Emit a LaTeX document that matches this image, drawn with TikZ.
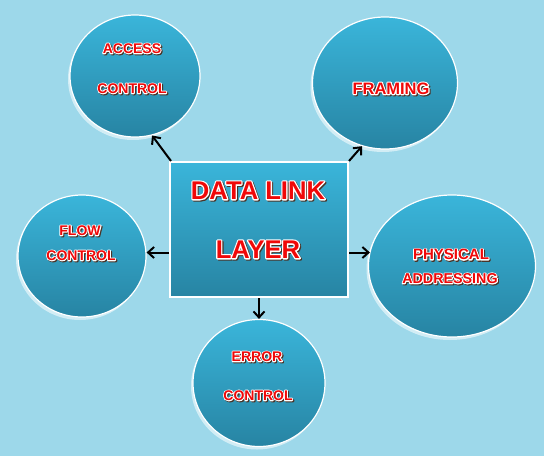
\documentclass[tikz,border=0pt]{standalone}
\usepackage{fontspec}
\setmainfont{Liberation Sans}
\newfontface\olfont[FakeBold=14]{Liberation Sans Bold}
\newfontface\olbigfont[FakeBold=10]{Liberation Sans Bold}
\usetikzlibrary{shadows,arrows.meta,shapes.geometric}
\definecolor{bgc}{HTML}{9DD8EA}
\definecolor{topc}{HTML}{3AB5DA}
\definecolor{botc}{HTML}{2784A3}
\definecolor{txtred}{HTML}{F00808}
\definecolor{shdc}{HTML}{4A3428}
\newcommand\ftext[2][\olfont]{%
  \special{pdf:literal direct 1 j 1 J}%
  \rlap{\kern1.1pt\raisebox{-1.1pt}{\textcolor{shdc}{#1#2}}}%
  \rlap{\textcolor{white}{#1#2}}%
  \textcolor{txtred}{#2}}
\begin{document}
\begin{tikzpicture}[x=1pt,y=-1pt,
  bubble/.style={ellipse, draw=white, line width=1.2pt, inner sep=0pt,
    top color=topc, bottom color=botc,
    drop shadow={shadow xshift=-2pt, shadow yshift=-3pt, fill=white, opacity=.55}},
  box/.style={rectangle, draw=white, line width=2pt, inner sep=0pt,
    top color=topc, bottom color=botc},
  lbl/.style={font=\bfseries\fontsize{14}{14}\selectfont, inner sep=0pt},
  big/.style={font=\bfseries\fontsize{25.6}{26}\selectfont, inner sep=0pt},
  arr/.style={draw=black, line width=2pt, -{Straight Barb[length=6pt,width=11pt]}}]
\fill[bgc] (0,0) rectangle (544,456);
\useasboundingbox (0,0) rectangle (544,456);
% bubbles
\node[bubble, minimum width=130pt, minimum height=122pt] (acc) at (135,76) {};
\node[bubble, minimum width=145pt, minimum height=132pt] (frm) at (385,83) {};
\node[bubble, minimum width=128pt, minimum height=122pt] (flw) at (82,256) {};
\node[bubble, minimum width=167pt, minimum height=142pt] (phy) at (452,266) {};
\node[bubble, minimum width=132pt, minimum height=127pt] (err) at (259,383) {};
\node[box, minimum width=178pt, minimum height=135pt] (dll) at (259,229.5) {};
% labels
\node[lbl] (accA) at (132,49) {\ftext{ACCESS}};
\node[lbl] (accB) at (132,89) {\ftext{CONTROL}};
\node[lbl, font=\bfseries\fontsize{16.5}{17}\selectfont] (frmA) at (391,89) {\ftext{FRAMING}};
\node[lbl] (flwA) at (80,231) {\ftext{FLOW}};
\node[lbl] (flwB) at (81,256) {\ftext{CONTROL}};
\node[lbl, font=\bfseries\fontsize{15}{15}\selectfont] (phyA) at (451,255) {\ftext{PHYSICAL}};
\node[lbl, font=\bfseries\fontsize{14.3}{15}\selectfont] (phyB) at (450,279) {\ftext{ADDRESSING}};
\node[lbl] (errA) at (257,357) {\ftext{ERROR}};
\node[lbl] (errB) at (258,396) {\ftext{CONTROL}};
\node[big] (dllA) at (258,191) {\ftext[\olbigfont]{DATA LINK}};
\node[big] (dllB) at (258,250) {\ftext[\olbigfont]{LAYER}};
% arrows
\coordinate (lp) at ([yshift=-23pt]dll.west);
\coordinate (rp) at ([yshift=-23pt]dll.east);
\draw[arr] ([xshift=2pt]dll.north west) -- (acc.-74);
\draw[arr] (dll.north east) -- (frm.-110);
\draw[arr] (lp) -- (lp -| flw.east);
\draw[arr] (rp) -- ([xshift=2pt]rp -| phy.west);
\draw[arr] (dll.south) -- (err.north);
\end{tikzpicture}
\end{document}
